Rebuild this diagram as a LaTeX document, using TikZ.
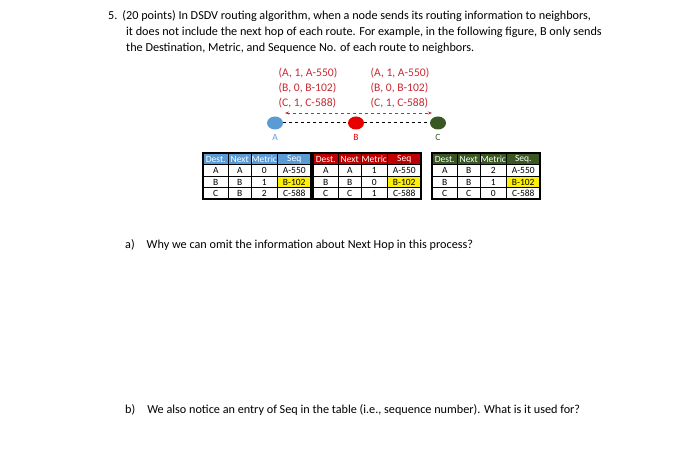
\documentclass[tikz,border=0pt]{standalone}
\usepackage{fontspec}
\setmainfont{Carlito}
\usetikzlibrary{arrows.meta,shapes.geometric}
\definecolor{lbl}{RGB}{200,40,50}
\definecolor{ablue}{RGB}{91,155,213}
\definecolor{bred}{RGB}{230,0,0}
\definecolor{cgreen}{RGB}{56,87,35}
\definecolor{hblue}{RGB}{91,155,213}
\definecolor{hred}{RGB}{192,0,0}
\definecolor{hgreen}{RGB}{56,87,35}
\tikzset{
  para/.style={anchor=west,font=\fontsize{12.2}{14}\selectfont,inner sep=0},
  lab/.style={text=lbl,font=\fontsize{11.6}{15}\selectfont,align=left,inner sep=0},
  nd/.style={ellipse,minimum width=16pt,minimum height=13pt,inner sep=0},
  cell/.style={draw=black,line width=0.5pt,minimum width=#1,minimum height=11.5pt,inner sep=0,font=\fontsize{9.5}{10}\selectfont,anchor=north west},
  link/.style={dashed,line width=1pt},
}
\newcommand{\rtable}[4]{%
  \begin{scope}[shift={(#1,153)}]
  \node[cell=25pt,fill=#2,text=white] (h1) at (0,0) {Dest.};
  \node[cell=23pt,fill=#2,text=white] (h2) at (25,0) {Next};
  \node[cell=26pt,fill=#2,text=white] (h3) at (48,0) {Metric};
  \node[cell=34pt,fill=#2,text=white] (h4) at (74,0) {#3};
  \foreach \r/\a/\b/\c/\sq/\hl in {#4}{
      \node[cell=25pt] (c\r1) at (0,11.5*\r) {\a};
      \node[cell=23pt] (c\r2) at (25,11.5*\r) {\b};
      \node[cell=26pt] (c\r3) at (48,11.5*\r) {\c};
      \node[cell=34pt,fill=\hl] (c\r4) at (74,11.5*\r) {\sq};
  }
  \draw[line width=1.2pt] (0,0) rectangle (108,46);
  \end{scope}}
\begin{document}
\begin{tikzpicture}[x=1pt,y=-1pt]
\useasboundingbox (0,0) rectangle (700,462);
\node[para] (t1) at (108,16) {5.\hspace{5pt}(20 points) In DSDV routing algorithm, when a node sends its routing information to neighbors,};
\node[para] (t2) at (126,32) {it does not include the next hop of each route. For example, in the following figure, B only sends};
\node[para] (t3) at (126,48) {the Destination, Metric, and Sequence No. of each route to neighbors.};
\node[lab] (l1) at (308,88) {(A, 1, A-550)\\(B, 0, B-102)\\(C, 1, C-588)};
\node[lab] (l2) at (400,88) {(A, 1, A-550)\\(B, 0, B-102)\\(C, 1, C-588)};
\node[nd,fill=ablue] (A) at (275,123) {};
\node[nd,fill=bred] (B) at (356,123) {};
\node[nd,fill=cgreen] (C) at (438,123) {};
\node[text=ablue,font=\fontsize{9.5}{10}\selectfont] (la) at (275,137) {A};
\node[text=bred,font=\fontsize{9.5}{10}\selectfont] (lb) at (356,137) {B};
\node[text=cgreen,font=\fontsize{9.5}{10}\selectfont] (lc) at (438,137) {C};
\draw[link] (A) -- (B);
\draw[link] (B) -- (C);
\coordinate (ar1) at (285,113);
\coordinate (ar2) at (432,113);
\draw[dashed,lbl,line width=0.9pt,{Stealth[length=4pt]}-{Stealth[length=4pt]}] (ar1) -- (ar2);
\rtable{203}{hblue}{Seq}{1/A/A/0/A-550/white,2/B/B/1/B-102/yellow,3/C/B/2/C-588/white}
\rtable{313}{hred}{Seq}{1/A/A/1/A-550/white,2/B/B/0/B-102/yellow,3/C/C/1/C-588/white}
\rtable{432}{hgreen}{Seq.}{1/A/B/2/A-550/white,2/B/B/1/B-102/yellow,3/C/C/0/C-588/white}
\node[para] (qa) at (125,245) {a)\hspace{12pt}Why we can omit the information about Next Hop in this process?};
\node[para] (qb) at (125,410) {b)\hspace{12pt}We also notice an entry of Seq in the table (i.e., sequence number). What is it used for?};
\end{tikzpicture}
\end{document}
